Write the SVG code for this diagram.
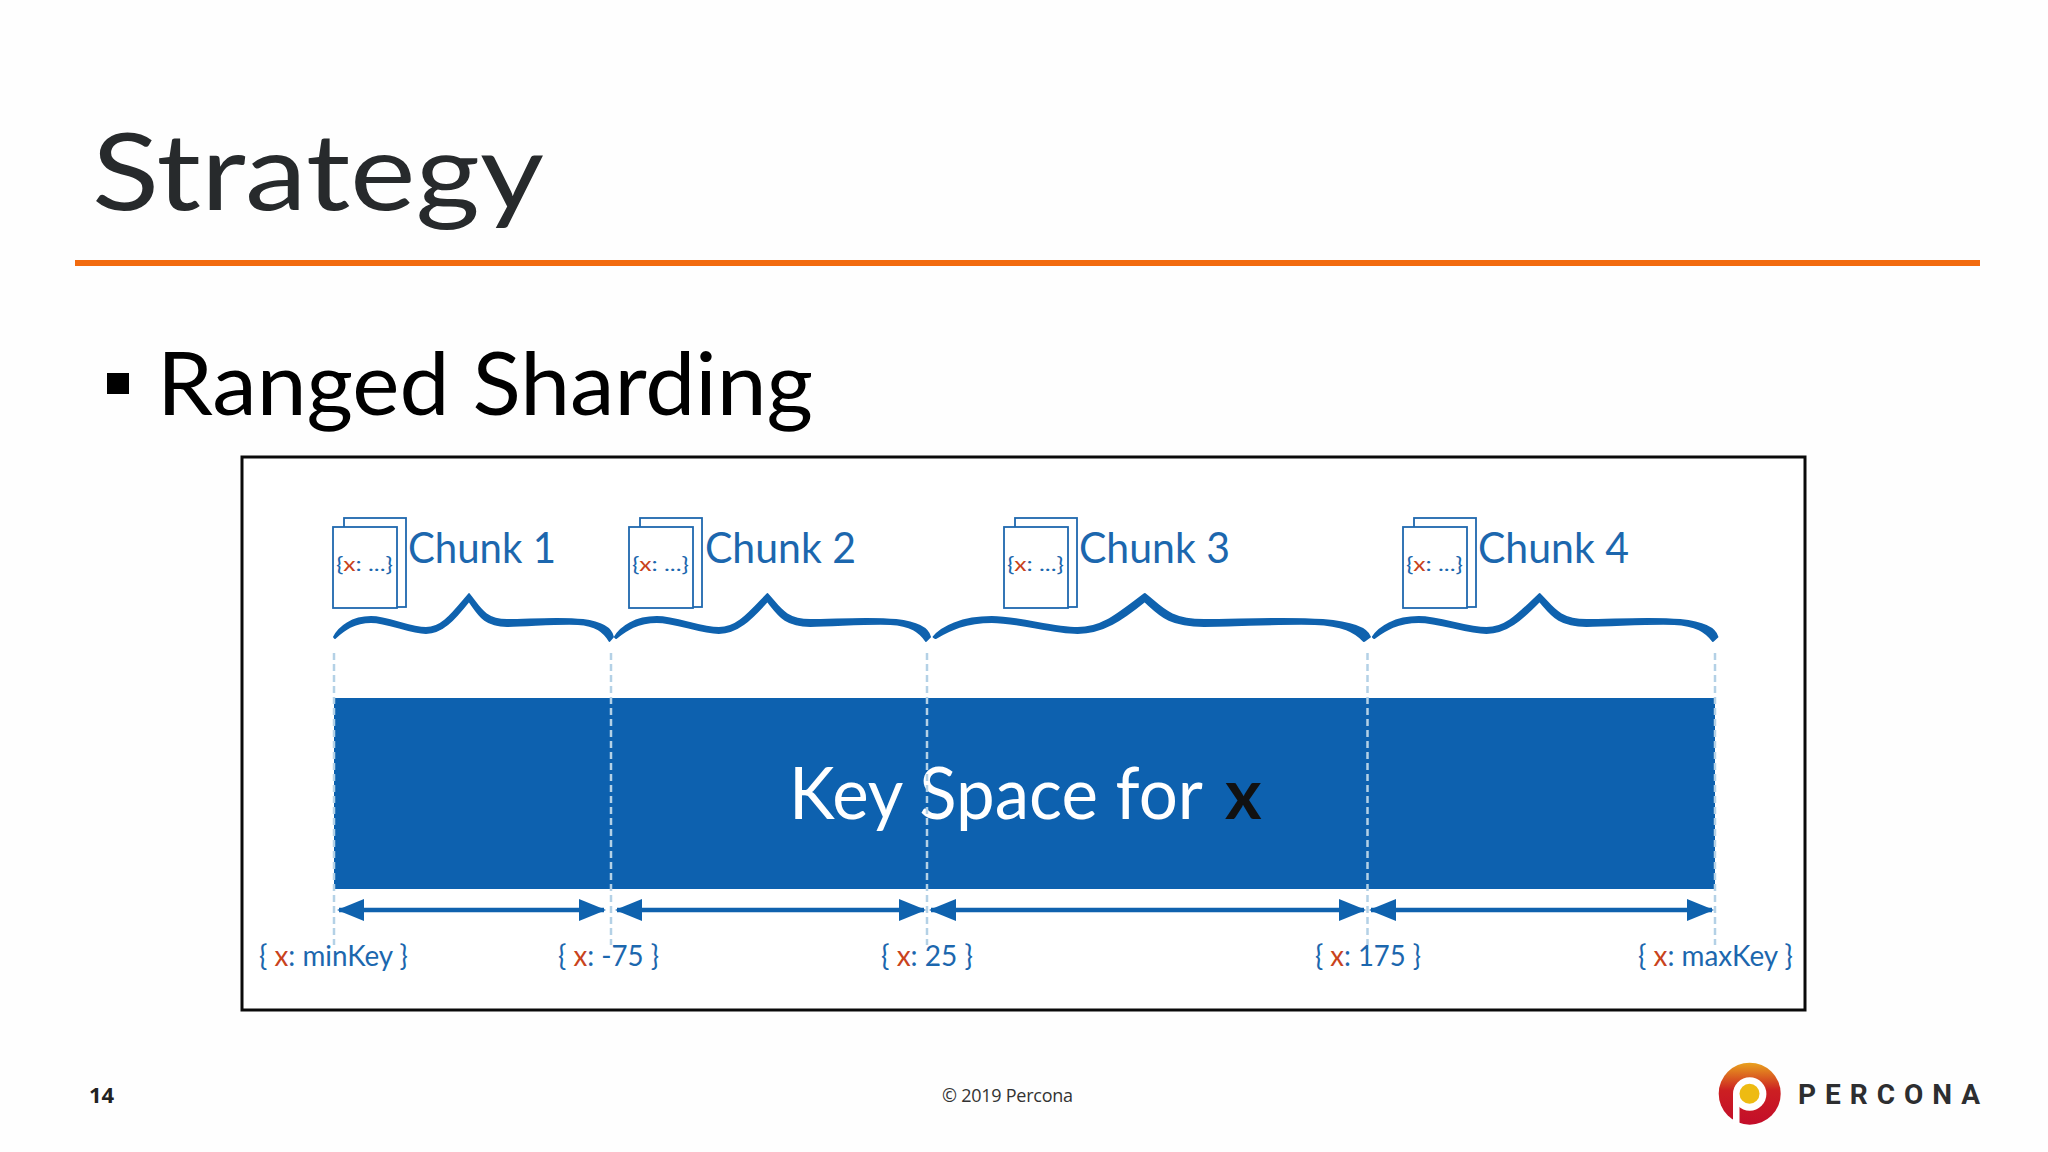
<svg xmlns="http://www.w3.org/2000/svg" xmlns:xlink="http://www.w3.org/1999/xlink" width="2048" height="1152" viewBox="0 0 2048 1152">
<style>
.k{font-family:"Lato","Noto Sans",sans-serif}
.b{fill:#1c67ae}
.r{fill:#c9431c}
.chunk{font-size:42px;fill:#1c67ae}
.lab{font-size:28px;fill:#1c67ae}
.doc{font-size:20px;fill:#1c67ae}
.page{fill:#fff;stroke:#1f68ae;stroke-width:1.8}
.dash{stroke:#b4d1e6;stroke-width:2.5;stroke-dasharray:7 4;fill:none}
.arrow{stroke:#0f62ae;stroke-width:4.5;fill:none;marker-start:url(#ah);marker-end:url(#ah)}
</style>
<defs>
<marker id="ah" markerUnits="userSpaceOnUse" markerWidth="28" markerHeight="24" refX="25" refY="12" orient="auto-start-reverse"><path d="M0 1L27 12L0 23Z" fill="#0f62ae"/></marker>
<linearGradient id="lg" x1="0" y1="0" x2="0" y2="1"><stop offset="0" stop-color="#e9a21e"/><stop offset=".45" stop-color="#cc1f22"/><stop offset="1" stop-color="#c30d2a"/></linearGradient>
<path id="brace" fill="#0f62ae" stroke="#0f62ae" stroke-width="1.800" stroke-linejoin="round" d="M0 637C5 627 18 617 37 617C55 617 75 628 92 628C108 628 118 614 135 594C145 606 150 620 173 620C195 620 225 617 249 620C265 622 277 627 279 637L275.500 641C270 632 262 625 244 624C220 623 195 626 173 626C150 626 145 615 135 601C120 620 108 633 92 633C75 633 55 622 37 622C20 622 10 630 1 638Z"/>
<g id="docs"><rect class="page" x="11" y="0" width="62" height="89"/><rect class="page" x="0" y="9" width="64" height="81"/></g>
</defs>
<rect width="2048" height="1152" fill="#fefefe"/>
<g id="header">
<text x="92" y="210" font-size="106" fill="#272a2c" class="k" textLength="452" lengthAdjust="spacingAndGlyphs">Strategy</text>
<rect x="75" y="260" width="1905" height="6" fill="#f26b0f"/>
<rect x="107" y="373" width="22" height="21" fill="#000"/>
<text x="157" y="415" font-size="88" fill="#000" class="k" textLength="656" lengthAdjust="spacingAndGlyphs">Ranged Sharding</text>
</g>
<rect id="frame" x="242" y="457" width="1563" height="553" fill="#fff" stroke="#0a0a0a" stroke-width="3"/>
<g id="keyspace">
<rect x="334" y="698" width="1381" height="191" fill="#0d61af"/>
<text x="789" y="819" font-size="72" fill="#fff" class="k" textLength="414" lengthAdjust="spacingAndGlyphs">Key Space for</text>
<text x="1225" y="819" font-size="70" font-weight="700" fill="#111" class="k">x</text>
</g>
<g id="chunk1">
<use xlink:href="#docs" href="#docs" x="333" y="518"/>
<text x="336" y="571" class="k doc" textLength="57" lengthAdjust="spacingAndGlyphs">{<tspan class="r">x</tspan>: ...}</text>
<text x="408" y="563" class="k chunk" textLength="148" lengthAdjust="spacingAndGlyphs">Chunk 1</text>
<use xlink:href="#brace" href="#brace" transform="translate(334 0)"/>
</g>
<g id="chunk2">
<use xlink:href="#docs" href="#docs" x="629" y="518"/>
<text x="632" y="571" class="k doc" textLength="57" lengthAdjust="spacingAndGlyphs">{<tspan class="r">x</tspan>: ...}</text>
<text x="705" y="563" class="k chunk" textLength="151" lengthAdjust="spacingAndGlyphs">Chunk 2</text>
<use xlink:href="#brace" href="#brace" transform="translate(615 0) scale(1.129 1)"/>
</g>
<g id="chunk3">
<use xlink:href="#docs" href="#docs" x="1004" y="518"/>
<text x="1007" y="571" class="k doc" textLength="57" lengthAdjust="spacingAndGlyphs">{<tspan class="r">x</tspan>: ...}</text>
<text x="1079" y="563" class="k chunk" textLength="151" lengthAdjust="spacingAndGlyphs">Chunk 3</text>
<use xlink:href="#brace" href="#brace" transform="translate(934 0) scale(1.561 1)"/>
</g>
<g id="chunk4">
<use xlink:href="#docs" href="#docs" x="1403" y="518"/>
<text x="1406" y="571" class="k doc" textLength="57" lengthAdjust="spacingAndGlyphs">{<tspan class="r">x</tspan>: ...}</text>
<text x="1478" y="563" class="k chunk" textLength="151" lengthAdjust="spacingAndGlyphs">Chunk 4</text>
<use xlink:href="#brace" href="#brace" transform="translate(1373 0) scale(1.234 1)"/>
</g>
<g id="connectors">
<path class="dash" d="M334 653V945M611 653V945M927 653V945M1367.500 653V945M1715 653V945"/>
<path class="arrow" d="M339 910H604"/>
<path class="arrow" d="M617 910H924"/>
<path class="arrow" d="M931 910H1364"/>
<path class="arrow" d="M1371 910H1712"/>
</g>
<g id="keys">
<text x="259" y="966" class="k lab" textLength="149" lengthAdjust="spacingAndGlyphs">{ <tspan class="r">x</tspan>: minKey }</text>
<text x="558" y="966" class="k lab" textLength="101" lengthAdjust="spacingAndGlyphs">{ <tspan class="r">x</tspan>: -75 }</text>
<text x="881" y="966" class="k lab" textLength="92" lengthAdjust="spacingAndGlyphs">{ <tspan class="r">x</tspan>: 25 }</text>
<text x="1315" y="966" class="k lab" textLength="106" lengthAdjust="spacingAndGlyphs">{ <tspan class="r">x</tspan>: 175 }</text>
<text x="1638" y="966" class="k lab" textLength="155" lengthAdjust="spacingAndGlyphs">{ <tspan class="r">x</tspan>: maxKey }</text>
</g>
<g id="footer">
<text x="89" y="1103" font-size="22" font-weight="700" fill="#222" font-family="Open Sans, sans-serif">14</text>
<text x="942" y="1102" font-size="18" fill="#333" font-family="Open Sans, sans-serif" textLength="131">© 2019 Percona</text>
</g>
<g id="logo">
<circle cx="1749.700" cy="1093.700" r="31" fill="url(#lg)"/>
<circle cx="1749.700" cy="1094" r="16.700" fill="#fff"/>
<rect x="1733" y="1094" width="6.500" height="30" fill="#fff"/>
<circle cx="1749.500" cy="1093.700" r="10" fill="#eebb12"/>
<text x="1798" y="1104" font-size="28" font-weight="700" fill="#2d2e30" font-family="Roboto, sans-serif" textLength="182" lengthAdjust="spacing">PERCONA</text>
</g>
</svg>
